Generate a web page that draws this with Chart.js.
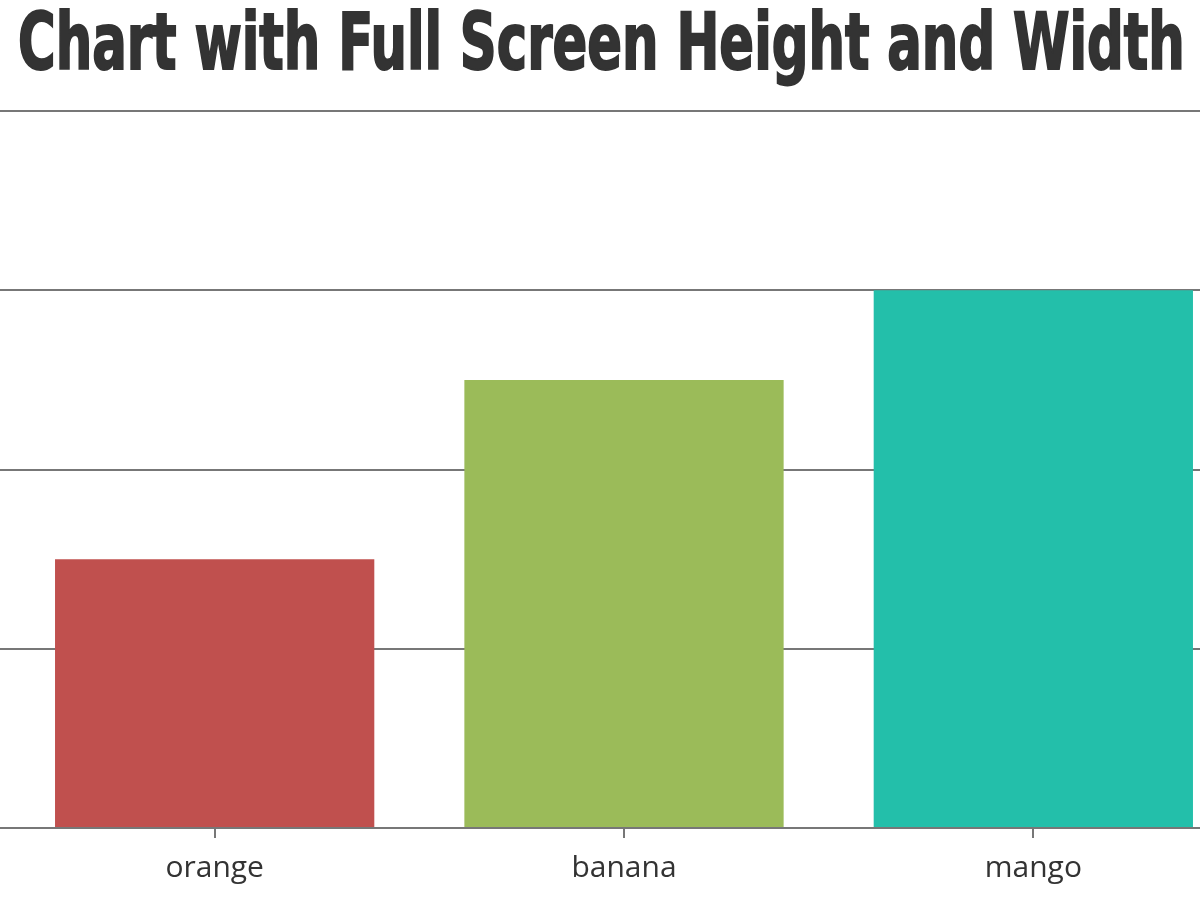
<!DOCTYPE html>
<html>
<head>
<meta charset="utf-8">
<script src="https://cdn.jsdelivr.net/npm/chart.js@4"></script>
<style>
  html, body { margin: 0; padding: 0; background: #fff; overflow: hidden; width: 1200px; height: 900px; }
  #title { position: absolute; left: 0; top: 0; white-space: nowrap; font-family: "DejaVu Sans Condensed", "DejaVu Sans", sans-serif; font-weight: bold; font-size: 78px; line-height: 90px; color: #333; -webkit-text-stroke: 2px #333; transform-origin: 0 0; }
  #wrap { position: absolute; left: 0; top: 0; width: 1250px; height: 900px; }
  #c { display: block; }
</style>
</head>
<body>
<div id="wrap"><canvas id="c" width="1250" height="900"></canvas></div>
<div id="title">Chart with Full Screen Height and Width</div>
<script>
const categories = ["orange", "banana", "mango"];
const values = [15, 25, 30];
const barColors = ["#C0504E", "#9BBB59", "#23BFAA"];
const yTicks = [0, 10, 20, 30, 40];

// fit title to reference width
const t = document.getElementById('title');
const w = t.offsetWidth;
const targetW = 1167, left = 18;
const sx = targetW / w;
t.style.transform = 'translate(' + left + 'px, -3px) scaleX(' + sx + ')';

Chart.defaults.animation = false;
new Chart(document.getElementById('c'), {
  type: 'bar',
  data: {
    labels: categories,
    datasets: [{ data: values, backgroundColor: barColors, borderWidth: 0, barPercentage: 0.78, categoryPercentage: 1 }]
  },
  options: {
    responsive: false,
    maintainAspectRatio: false,
    devicePixelRatio: 1,
    layout: { padding: { left: 0, right: 12, top: 111, bottom: 0 } },
    plugins: { legend: { display: false }, tooltip: { enabled: false }, title: { display: false } },
    scales: {
      x: {
        offset: true,
        grid: { display: true, offset: false, drawOnChartArea: false, drawTicks: true, tickLength: 10, color: '#777', lineWidth: 2 },
        border: { display: true, color: '#777', width: 2 },
        ticks: { color: '#333', font: { family: '"Open Sans", sans-serif', size: 30 }, padding: 12, maxRotation: 0 },
        afterFit: s => { s.height = 72; }
      },
      y: {
        min: yTicks[0], max: yTicks[yTicks.length - 1],
        afterBuildTicks: s => { s.ticks = yTicks.map(v => ({ value: v })); },
        grid: { color: '#777', lineWidth: 2, drawTicks: true, tickLength: 10 },
        border: { display: false },
        ticks: { display: false },
        afterFit: s => { s.width = 10; }
      }
    }
  }
});
</script>
</body>
</html>
